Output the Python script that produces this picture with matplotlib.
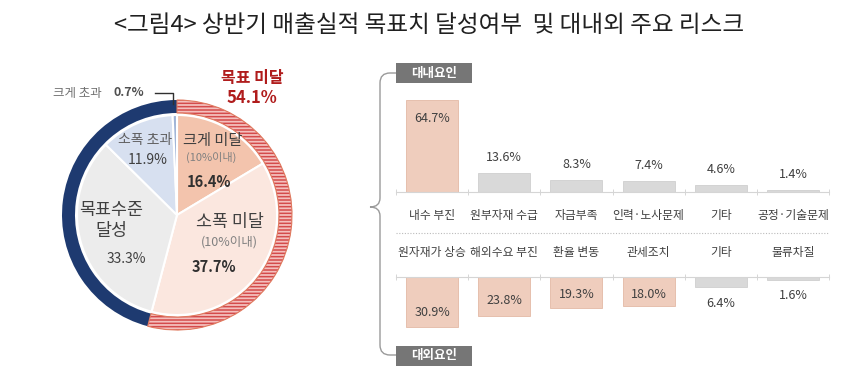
import numpy as np
import matplotlib
matplotlib.use('Agg')
import matplotlib.pyplot as plt
from matplotlib.path import Path
from matplotlib.patches import PathPatch, Rectangle, Wedge

plt.rcParams['font.family'] = ['Noto Sans CJK KR', 'DejaVu Sans']
plt.rcParams['hatch.linewidth'] = 1.3

# ---- data ----
pie_labels = ['크게 미달', '소폭 미달', '목표수준 달성', '소폭 초과', '크게 초과']
pie_values = [16.4, 37.7, 33.3, 11.9, 0.7]
ring_labels = ['목표 미달', '목표 달성']
ring_values = [54.1, 45.9]

inner_cats = ['내수 부진', '원부자재 수급', '자금부족', '인력·노사문제', '기타', '공정·기술문제']
inner_vals = [64.7, 13.6, 8.3, 7.4, 4.6, 1.4]
outer_cats = ['원자재가 상승', '해외수요 부진', '환율 변동', '관세조치', '기타', '물류차질']
outer_vals = [30.9, 23.8, 19.3, 18.0, 6.4, 1.6]

W, H = 860, 387
fig = plt.figure(figsize=(W / 100, H / 100), dpi=100)


def rect(x0, y0, x1, y1):
    # pixel box (top-left origin) -> figure fraction
    return [x0 / W, 1 - y1 / H, (x1 - x0) / W, (y1 - y0) / H]


txt = '#404040'
salmon = '#efcdbd'
grey = '#d9d9d9'

# ---- pie ----
axp = fig.add_axes(rect(57, 95, 297, 335))
slice_cols = ['#f3c4ad', '#fbe7df', '#ececec', '#d7e0f0', '#9fb3d6']
axp.pie(pie_values, startangle=90, counterclock=False, colors=slice_cols,
        radius=1.0, wedgeprops=dict(edgecolor='white', linewidth=1.5))
ring, _ = axp.pie(ring_values, startangle=90, counterclock=False, radius=1.15,
                  colors=['#d44b4b', '#1e3a70'],
                  wedgeprops=dict(width=0.13, linewidth=0))
ring[0].set_hatch('-----')
ring[0].set_edgecolor('#f4c0bd')
ring[0].set_linewidth(0)
# thin outline round the red part
axp.add_patch(Wedge((0, 0), 1.15, ring[0].theta1, ring[0].theta2, width=0.13,
                    fill=False, edgecolor='#e07a5f', lw=0.8))
axp.set_xlim(-1.2, 1.2)
axp.set_ylim(-1.2, 1.2)

# ---- bars: domestic factors ----
ax1 = fig.add_axes(rect(396, 92, 829, 192))
x = np.arange(len(inner_cats))
c1 = [salmon if v >= 15 else grey for v in inner_vals]
ax1.bar(x, inner_vals, width=0.72, color=c1, edgecolor=['#e3b9a6' if v >= 15 else '#cfcfcf' for v in inner_vals], linewidth=0.6)
for xi, v in zip(x, inner_vals):
    ypos = v - 12.6 if v >= 15 else v + 11
    ax1.text(xi, ypos, f'{v:.1f}%', ha='center', va='center', fontsize=9, color=txt)
ax1.set_xlim(-0.5, len(inner_cats) - 0.5)
ax1.set_ylim(0, 100 / 1.42)
ax1.set_xticks(x)
ax1.set_xticklabels(inner_cats, fontsize=8.5, color=txt)
ax1.set_xticks(np.arange(-0.5, len(inner_cats)), minor=True)
ax1.tick_params(axis='x', which='major', length=0, pad=12)
ax1.tick_params(axis='x', which='minor', length=5, direction='inout', color='#d0d0d0')
ax1.set_yticks([])
for s in ['top', 'left', 'right']:
    ax1.spines[s].set_visible(False)
ax1.spines['bottom'].set_color('#d5d5d5')
ax1.patch.set_alpha(0)

# ---- bars: external factors ----
ax2 = fig.add_axes(rect(396, 277, 829, 340))
c2 = [salmon if v >= 15 else grey for v in outer_vals]
ax2.bar(x, outer_vals, width=0.72, color=c2, edgecolor=['#e3b9a6' if v >= 15 else '#cfcfcf' for v in outer_vals], linewidth=0.6)
for xi, v in zip(x, outer_vals):
    ypos = max(v - 9, 11) if v >= 15 else v + 10
    ax2.text(xi, ypos, f'{v:.1f}%', ha='center', va='center', fontsize=9, color=txt)
ax2.set_xlim(-0.5, len(outer_cats) - 0.5)
ax2.set_ylim(63 / 1.62, 0)
ax2.set_xticks(x)
ax2.set_xticklabels(outer_cats, fontsize=8.5, color=txt)
ax2.set_xticks(np.arange(-0.5, len(outer_cats)), minor=True)
ax2.xaxis.tick_top()
ax2.tick_params(axis='x', which='major', length=0, pad=13)
ax2.tick_params(axis='x', which='minor', length=5, direction='inout', color='#d0d0d0')
ax2.set_yticks([])
for s in ['bottom', 'left', 'right']:
    ax2.spines[s].set_visible(False)
ax2.spines['top'].set_color('#d5d5d5')
ax2.patch.set_alpha(0)

# ---- overlay for annotations (pixel coords) ----
ov = fig.add_axes([0, 0, 1, 1])
ov.set_xlim(0, W)
ov.set_ylim(H, 0)
ov.axis('off')
ov.patch.set_alpha(0)

ov.text(429, 25, '<그림4> 상반기 매출실적 목표치 달성여부  및 대내외 주요 리스크',
        ha='center', va='center', fontsize=17, color='#202020')

# pie labels
ov.text(213, 140, '크게 미달', ha='center', va='center', fontsize=11, color=txt)
ov.text(211, 157, '(10%이내)', ha='center', va='center', fontsize=8, color='#808080')
ov.text(209, 182, '16.4%', ha='center', va='center', fontsize=10.5, fontweight='bold', color='#303030')
ov.text(230, 222, '소폭 미달', ha='center', va='center', fontsize=12.5, color=txt)
ov.text(229, 242, '(10%이내)', ha='center', va='center', fontsize=9, color='#808080')
ov.text(214, 267, '37.7%', ha='center', va='center', fontsize=10.5, fontweight='bold', color='#303030')
ov.text(111, 210, '목표수준', ha='center', va='center', fontsize=12.5, color=txt)
ov.text(111, 231, '달성', ha='center', va='center', fontsize=12.5, color=txt)
ov.text(126, 259, '33.3%', ha='center', va='center', fontsize=10, color=txt)
ov.text(145, 140, '소폭 초과', ha='center', va='center', fontsize=10, color='#606060')
ov.text(148, 160, '11.9%', ha='center', va='center', fontsize=10, color=txt)
ov.text(252, 78, '목표 미달', ha='center', va='center', fontsize=11.5, fontweight='bold', color='#b01c1c')
ov.text(252, 98, '54.1%', ha='center', va='center', fontsize=12, fontweight='bold', color='#b01c1c')
ov.text(53, 93, '크게 초과', ha='left', va='center', fontsize=9, color='#707070')
ov.text(113, 93, '0.7%', ha='left', va='center', fontsize=9, fontweight='bold', color='#505050')
ov.plot([155, 173, 173], [93, 93, 104], color='#303030', lw=1)

# separator line
ov.plot([396, 829], [233, 233], color='#bbbbbb', lw=0.8, ls=(0, (1, 1.5)))

# bracket
verts = [(396, 73), (390, 73), (380, 73), (380, 83), (380, 198), (380, 207), (370, 207),
         (380, 207), (380, 216), (380, 345), (380, 355), (390, 355), (396, 355)]
codes = [Path.MOVETO, Path.LINETO, Path.CURVE3, Path.CURVE3, Path.LINETO, Path.CURVE3, Path.CURVE3,
         Path.CURVE3, Path.CURVE3, Path.LINETO, Path.CURVE3, Path.CURVE3, Path.LINETO]
ov.add_patch(PathPatch(Path(verts, codes), fill=False, edgecolor='#9a9a9a', lw=1))

# factor boxes
for y0, label in [(63, '대내요인'), (346, '대외요인')]:
    ov.add_patch(Rectangle((396, y0), 76, 20, facecolor='#767676', edgecolor='none'))
    ov.text(434, y0 + 10, label, ha='center', va='center', fontsize=9,
            fontweight='bold', color='white')

fig.savefig('out.png', dpi=100)
